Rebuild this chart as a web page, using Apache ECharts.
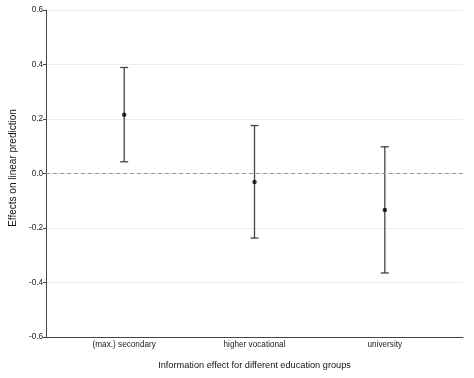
<!DOCTYPE html>
<html>
<head>
<meta charset="utf-8">
<script src="https://cdn.jsdelivr.net/npm/echarts@6/dist/echarts.min.js"></script>
<style>
  html, body { margin: 0; padding: 0; background: #fff; }
  #chart { width: 474px; height: 378px; }
</style>
</head>
<body>
<div id="chart"></div>
<script>
  // values
  var categories = ['(max.) secondary', 'higher vocational', 'university']
  var estimates = [0.216, -0.031, -0.134]
  var lower = [0.043, -0.237, -0.365]
  var upper = [0.389, 0.176, 0.098]
  var yTicks = [-0.6, -0.4, -0.2, 0.0, 0.2, 0.4, 0.6]

  var font = 'Liberation Sans, Arial, sans-serif'
  var chart = echarts.init(document.getElementById('chart'))

  var barData = categories.map(function (c, i) {
    return [i, lower[i], upper[i]]
  })
  var pointData = categories.map(function (c, i) {
    return [i, estimates[i]]
  })

  var option = {
    animation: false,
    backgroundColor: '#fff',
    grid: {
      left: 46,
      right: 11,
      top: 10,
      bottom: 41
    },
    xAxis: {
      type: 'value',
      min: -0.6,
      max: 2.6,
      name: 'Information effect for different education groups',
      nameLocation: 'middle',
      nameGap: 24,
      nameTextStyle: { fontFamily: font, fontSize: 9.2, color: '#111' },
      axisLine: { onZero: false, lineStyle: { color: '#444', width: 1 } },
      axisTick: { show: false },
      splitLine: { show: false },
      axisLabel: {
        customValues: [0, 1, 2],
        fontFamily: font,
        fontSize: 8.2,
        color: '#222',
        margin: 4,
        formatter: function (v) {
          return categories[Math.round(v)]
        }
      }
    },
    yAxis: {
      type: 'value',
      min: yTicks[0],
      max: yTicks[yTicks.length - 1],
      interval: 0.2,
      name: 'Effects on linear prediction',
      nameLocation: 'middle',
      nameGap: 28,
      nameRotate: 90,
      nameTextStyle: { fontFamily: font, fontSize: 10, color: '#111', padding: [0, 0, 0, 11] },
      axisLine: { show: true, onZero: false, lineStyle: { color: '#444', width: 1 } },
      axisTick: { show: true, length: 3, lineStyle: { color: '#444' } },
      splitLine: { lineStyle: { color: '#ececec', width: 1 } },
      axisLabel: {
        fontFamily: font,
        fontSize: 8.2,
        color: '#222',
        margin: 3,
        formatter: function (v) {
          return v.toFixed(1)
        }
      }
    },
    series: [
      {
        type: 'custom',
        silent: true,
        data: barData,
        renderItem: function (params, api) {
          var x = api.value(0)
          var lo = api.coord([x, api.value(1)])
          var hi = api.coord([x, api.value(2)])
          var half = 4
          var style = { stroke: '#444', lineWidth: 1.3 }
          return {
            type: 'group',
            children: [
              { type: 'line', shape: { x1: hi[0], y1: hi[1], x2: lo[0], y2: lo[1] }, style: style },
              { type: 'line', shape: { x1: hi[0] - half, y1: hi[1], x2: hi[0] + half, y2: hi[1] }, style: style },
              { type: 'line', shape: { x1: lo[0] - half, y1: lo[1], x2: lo[0] + half, y2: lo[1] }, style: style }
            ]
          }
        },
        z: 3
      },
      {
        type: 'scatter',
        data: pointData,
        symbol: 'circle',
        symbolSize: 4.5,
        itemStyle: { color: '#000' },
        z: 4,
        markLine: {
          silent: true,
          symbol: 'none',
          label: { show: false },
          lineStyle: { color: '#999', type: [4, 3], width: 1 },
          data: [{ yAxis: 0 }]
        }
      }
    ]
  }
  chart.setOption(option)
</script>
</body>
</html>
